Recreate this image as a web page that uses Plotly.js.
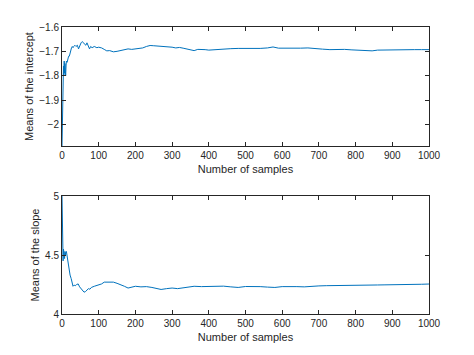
<!DOCTYPE html>
<html>
<head>
<meta charset="utf-8">
<script src="https://cdn.plot.ly/plotly-3.0.1.min.js"></script>
<style>html,body{margin:0;padding:0;background:#fff;}#chart{width:474px;height:355px;}</style>
</head>
<body>
<div id="chart"></div>
<script>
// Intercept means
const samplesIntercept = [0,1,2,3,4,5,6,7,8,9,10,11,12,14,16,18,20,22,24,26,28,30,32,35,38,42,45,48,52,55,58,62,65,68,72,75,78,82,88,95,100,108,115,122,130,140,150,160,170,180,190,200,210,220,230,240,250,260,270,280,290,300,310,320,330,340,350,360,370,380,390,400,420,440,460,480,500,520,540,560,575,590,610,630,650,670,690,710,730,750,770,790,810,830,845,860,880,900,920,940,960,980,1000];
const meanIntercept = [-2.09,-1.95,-1.85,-1.80,-1.76,-1.80,-1.74,-1.79,-1.75,-1.80,-1.80,-1.76,-1.74,-1.745,-1.73,-1.72,-1.72,-1.705,-1.70,-1.685,-1.68,-1.685,-1.68,-1.675,-1.68,-1.675,-1.69,-1.675,-1.665,-1.66,-1.665,-1.67,-1.675,-1.665,-1.68,-1.69,-1.68,-1.685,-1.68,-1.685,-1.683,-1.686,-1.692,-1.698,-1.697,-1.702,-1.700,-1.696,-1.693,-1.690,-1.692,-1.690,-1.688,-1.686,-1.680,-1.676,-1.677,-1.678,-1.680,-1.679,-1.682,-1.683,-1.686,-1.684,-1.687,-1.690,-1.693,-1.697,-1.692,-1.691,-1.693,-1.695,-1.692,-1.690,-1.689,-1.688,-1.689,-1.690,-1.688,-1.686,-1.682,-1.687,-1.688,-1.689,-1.687,-1.686,-1.690,-1.691,-1.693,-1.691,-1.692,-1.694,-1.695,-1.696,-1.698,-1.695,-1.694,-1.695,-1.694,-1.694,-1.693,-1.693,-1.693];

// Slope means
const samplesSlope = [0,1,2,3,4,5,6,7,8,9,10,12,14,16,18,20,22,25,28,30,33,36,40,44,48,52,56,60,64,68,72,76,80,88,95,100,108,115,122,130,140,150,160,170,180,190,200,215,230,245,260,270,285,300,315,330,345,360,380,400,420,440,460,480,500,520,540,560,580,600,620,640,660,680,700,720,740,760,780,800,820,840,860,880,900,920,940,960,980,1000];
const meanSlope = [5.0,4.75,4.5,4.45,4.55,4.48,4.52,4.47,4.53,4.5,4.52,4.53,4.48,4.45,4.38,4.35,4.33,4.30,4.25,4.235,4.245,4.24,4.25,4.255,4.23,4.215,4.195,4.185,4.19,4.205,4.215,4.21,4.225,4.235,4.24,4.245,4.255,4.27,4.27,4.265,4.27,4.26,4.25,4.235,4.22,4.23,4.235,4.23,4.232,4.225,4.215,4.208,4.215,4.22,4.215,4.22,4.228,4.235,4.232,4.235,4.232,4.236,4.23,4.225,4.233,4.235,4.232,4.228,4.225,4.232,4.235,4.232,4.23,4.236,4.238,4.24,4.24,4.242,4.243,4.246,4.244,4.245,4.246,4.247,4.247,4.248,4.249,4.25,4.252,4.254];

const xTicks = [0,100,200,300,400,500,600,700,800,900,1000];
const yTicksIntercept = [-2,-1.9,-1.8,-1.7,-1.6];
const yTicksSlope = [4,4.5,5];

const lineColor = '#0072BD';
const axColor = '#262626';
const font = {family: 'Liberation Sans, Arial, sans-serif', size: 10, color: axColor};

function xAxis(anchor){
  return {
    anchor: anchor, range: [0,1000], tickvals: xTicks, ticks: 'inside', ticklen: 4,
    tickcolor: axColor, showline: true, linecolor: axColor, linewidth: 1, mirror: 'ticks',
    showgrid: false, zeroline: false, tickfont: font,
    title: {text: 'Number of samples', font: {family: font.family, size: 11, color: axColor}, standoff: 5}
  };
}
function yAxis(anchor, range, ticks, title, dom){
  return {
    anchor: anchor, range: range, tickvals: ticks, ticks: 'inside', ticklen: 4,
    tickcolor: axColor, showline: true, linecolor: axColor, linewidth: 1, mirror: 'ticks',
    showgrid: false, zeroline: false, tickfont: font, domain: dom,
    title: {text: title, font: {family: font.family, size: 11, color: axColor}, standoff: 3}
  };
}

const traces = [
  {x: samplesIntercept, y: meanIntercept, type: 'scatter', mode: 'lines', line: {color: lineColor, width: 1}, xaxis: 'x', yaxis: 'y'},
  {x: samplesSlope, y: meanSlope, type: 'scatter', mode: 'lines', line: {color: lineColor, width: 1}, xaxis: 'x2', yaxis: 'y2'}
];

const layout = {
  width: 474, height: 355,
  margin: {l: 62, r: 45, t: 0, b: 0},
  paper_bgcolor: '#fff', plot_bgcolor: '#fff',
  showlegend: false,
  xaxis: xAxis('y'),
  yaxis: yAxis('x', [-2.089, -1.6], yTicksIntercept, 'Means of the intercept', [1-146/355, 1-27/355]),
  xaxis2: xAxis('y2'),
  yaxis2: yAxis('x2', [4, 5], yTicksSlope, 'Means of the slope', [1-314/355, 1-196/355])
};

Plotly.newPlot('chart', traces, layout, {displayModeBar: false, staticPlot: true});
</script>
</body>
</html>
